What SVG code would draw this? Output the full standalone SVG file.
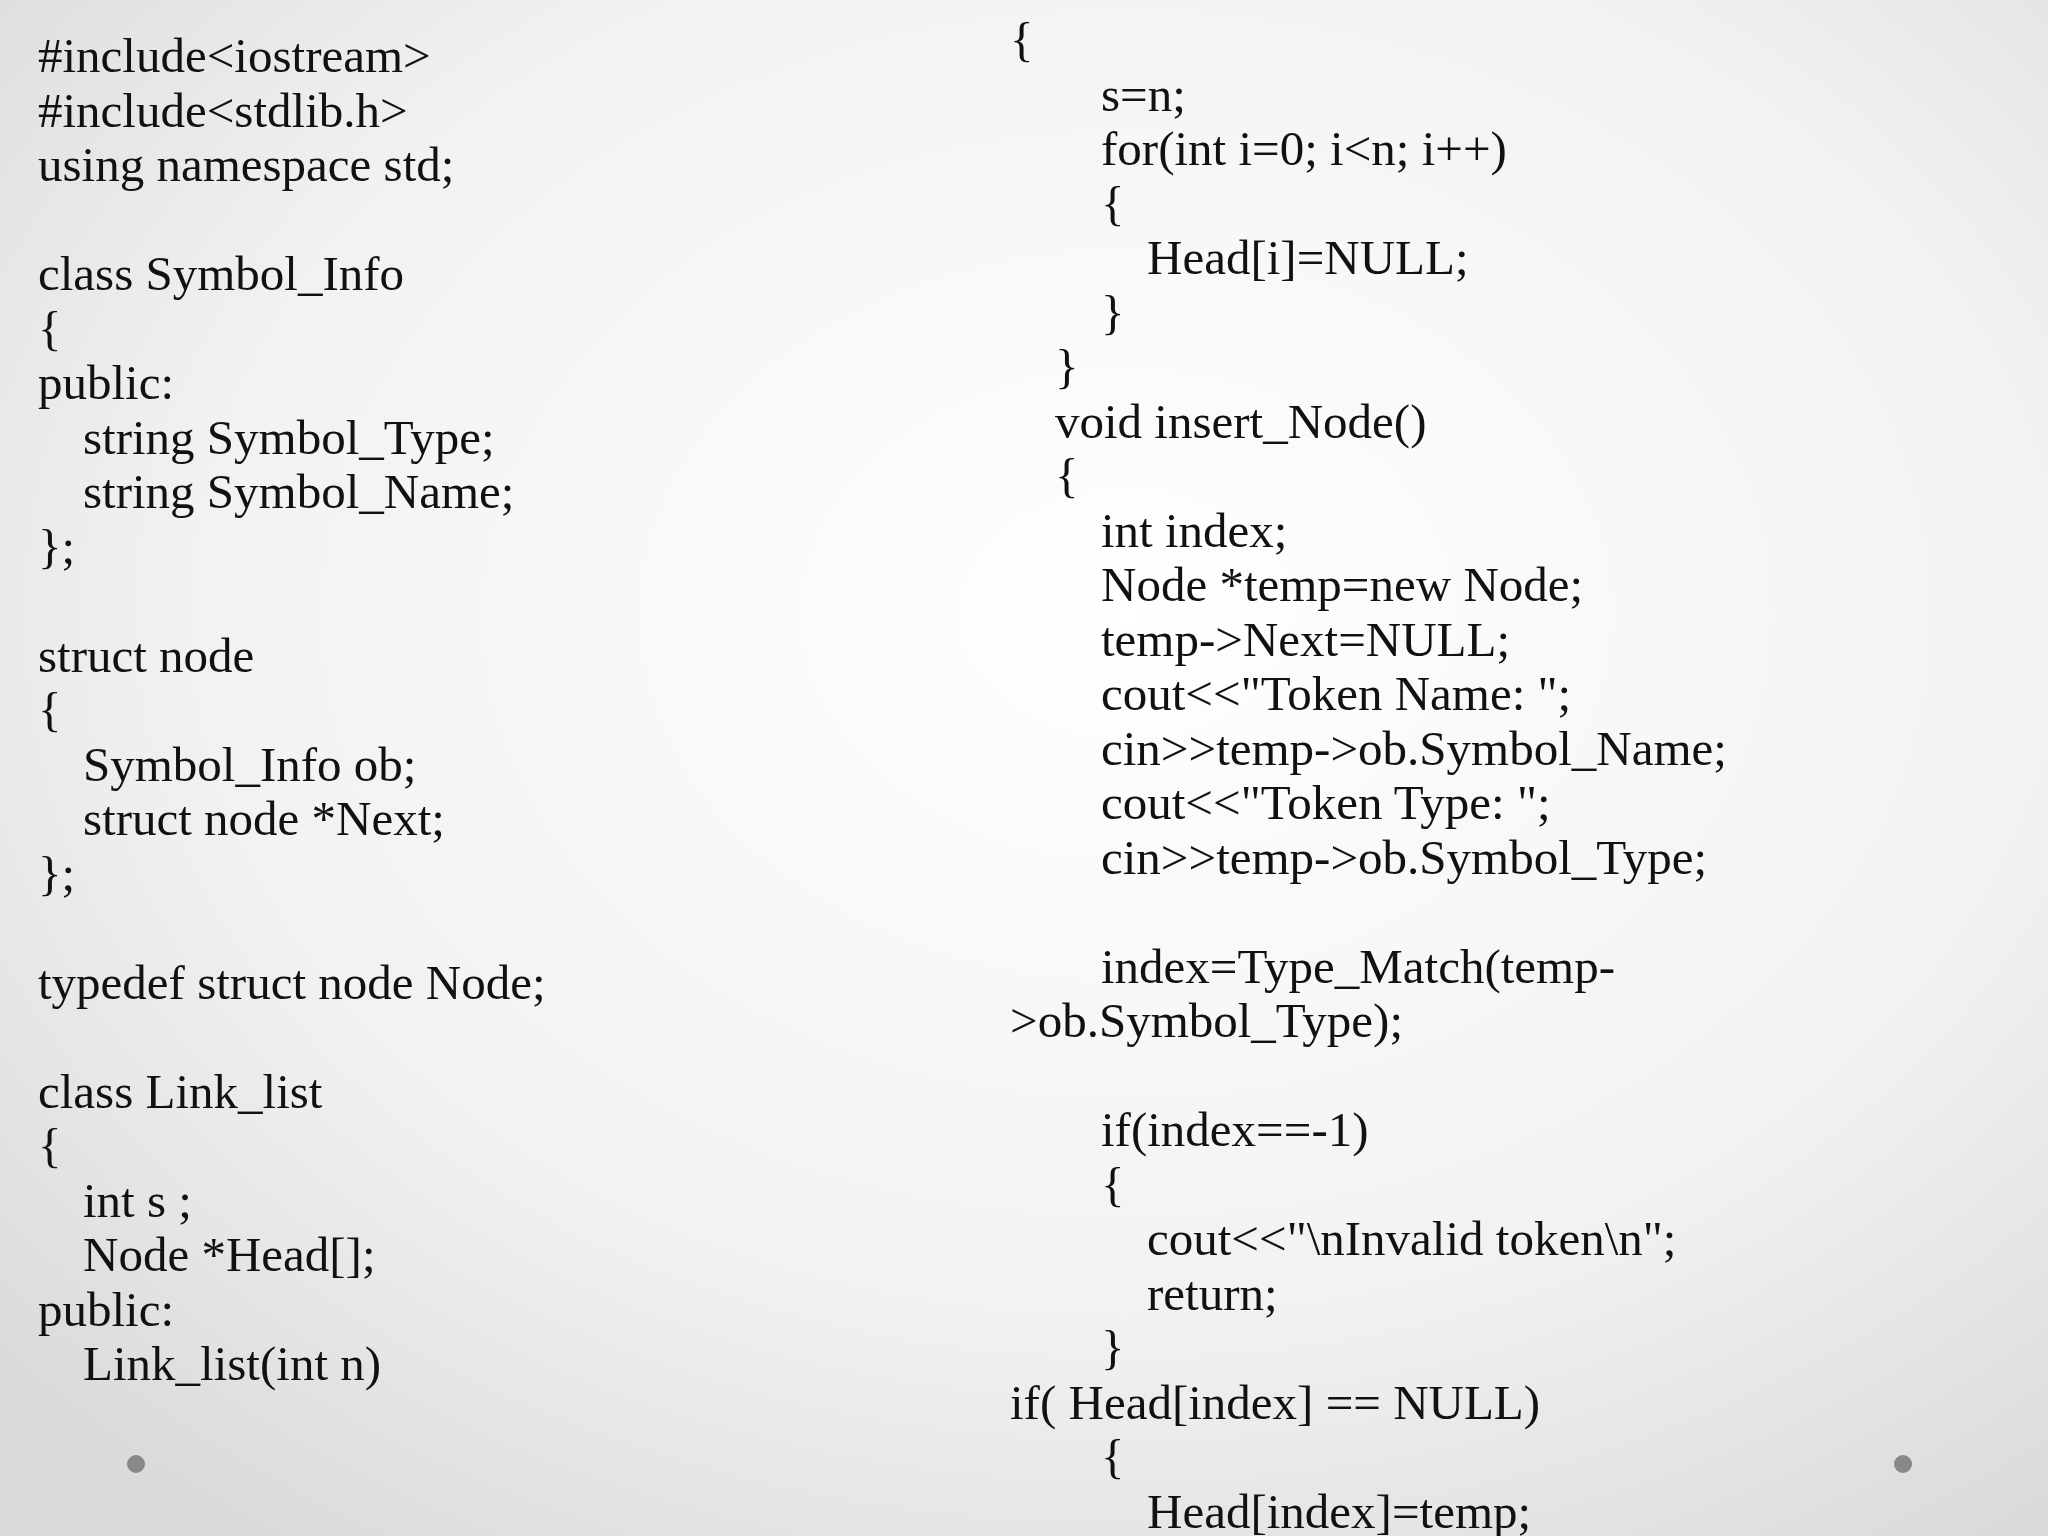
<svg xmlns="http://www.w3.org/2000/svg" width="2048" height="1536" viewBox="0 0 2048 1536">
<defs>
<radialGradient id="bg" cx="0.55" cy="0.4" r="0.75">
<stop offset="0" stop-color="#ffffff"/>
<stop offset="0.6" stop-color="#f2f2f2"/>
<stop offset="1" stop-color="#d9d9d9"/>
</radialGradient>
<style>
text{font-family:"Liberation Serif","Times New Roman",serif;font-size:49px;fill:#111}
</style>
</defs>
<rect width="2048" height="1536" fill="url(#bg)"/>
<circle cx="136" cy="1464" r="9" fill="#888"/>
<circle cx="1903" cy="1464" r="9" fill="#888"/>
<g id="left" transform="translate(0,4)">
<text x="38" y="68">#include&lt;iostream&gt;</text>
<text x="38" y="123">#include&lt;stdlib.h&gt;</text>
<text x="38" y="177">using namespace std;</text>
<text x="38" y="286">class Symbol_Info</text>
<text x="38" y="341">{</text>
<text x="38" y="395">public:</text>
<text x="83" y="450">string Symbol_Type;</text>
<text x="83" y="504">string Symbol_Name;</text>
<text x="38" y="559">};</text>
<text x="38" y="668">struct node</text>
<text x="38" y="722">{</text>
<text x="83" y="777">Symbol_Info ob;</text>
<text x="83" y="831">struct node *Next;</text>
<text x="38" y="886">};</text>
<text x="38" y="995">typedef struct node Node;</text>
<text x="38" y="1104">class Link_list</text>
<text x="38" y="1158">{</text>
<text x="83" y="1213">int s ;</text>
<text x="83" y="1267">Node *Head[];</text>
<text x="38" y="1322">public:</text>
<text x="83" y="1376">Link_list(int n)</text>
</g>
<g id="right" transform="translate(0,4)">
<text x="1010" y="52">{</text>
<text x="1101" y="107">s=n;</text>
<text x="1101" y="161">for(int i=0; i&lt;n; i++)</text>
<text x="1101" y="216">{</text>
<text x="1147" y="270">Head[i]=NULL;</text>
<text x="1101" y="325">}</text>
<text x="1055" y="379">}</text>
<text x="1055" y="434">void insert_Node()</text>
<text x="1055" y="488">{</text>
<text x="1101" y="543">int index;</text>
<text x="1101" y="597">Node *temp=new Node;</text>
<text x="1101" y="652">temp-&gt;Next=NULL;</text>
<text x="1101" y="706">cout&lt;&lt;"Token Name: ";</text>
<text x="1101" y="761">cin&gt;&gt;temp-&gt;ob.Symbol_Name;</text>
<text x="1101" y="815">cout&lt;&lt;"Token Type: ";</text>
<text x="1101" y="870">cin&gt;&gt;temp-&gt;ob.Symbol_Type;</text>
<text x="1101" y="979">index=Type_Match(temp-</text>
<text x="1010" y="1033">&gt;ob.Symbol_Type);</text>
<text x="1101" y="1142">if(index==-1)</text>
<text x="1101" y="1197">{</text>
<text x="1147" y="1251">cout&lt;&lt;"\nInvalid token\n";</text>
<text x="1147" y="1306">return;</text>
<text x="1101" y="1360">}</text>
<text x="1010" y="1415">if( Head[index] == NULL)</text>
<text x="1101" y="1469">{</text>
<text x="1147" y="1524">Head[index]=temp;</text>
</g>
</svg>
